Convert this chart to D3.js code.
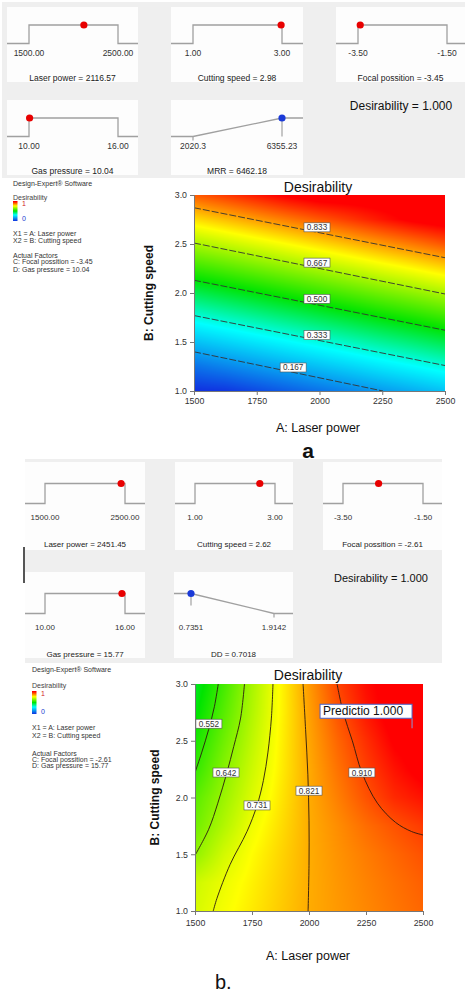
<!DOCTYPE html>
<html>
<head>
<meta charset="utf-8">
<script src="https://cdn.jsdelivr.net/npm/d3@7"></script>
<style>
  body { margin: 0; background: #fff; }
  svg { display: block; font-family: "Liberation Sans", Arial, sans-serif; }
</style>
</head>
<body>
<script>
// ---------------------------------------------------------------
// data
// ---------------------------------------------------------------
const gridA = [1500, 1625, 1750, 1875, 2000, 2125, 2250, 2375, 2500];   // A: Laser power
const gridB = [1.0, 1.25, 1.5, 1.75, 2.0, 2.25, 2.5, 2.75, 3.0];        // B: Cutting speed
const xTicks = [1500, 1750, 2000, 2250, 2500];
const yTicks = [1.0, 1.5, 2.0, 2.5, 3.0];

// desirability estimates, rows = gridB (low to high), cols = gridA
const desirA = [
  [0.000, 0.009, 0.038, 0.067, 0.096, 0.125, 0.155, 0.183, 0.213],
  [0.094, 0.123, 0.152, 0.181, 0.210, 0.239, 0.269, 0.297, 0.327],
  [0.208, 0.237, 0.266, 0.295, 0.324, 0.353, 0.383, 0.411, 0.441],
  [0.322, 0.351, 0.380, 0.409, 0.438, 0.467, 0.497, 0.525, 0.555],
  [0.436, 0.465, 0.494, 0.523, 0.552, 0.581, 0.611, 0.639, 0.669],
  [0.550, 0.579, 0.608, 0.637, 0.666, 0.695, 0.725, 0.753, 0.783],
  [0.664, 0.693, 0.722, 0.751, 0.780, 0.809, 0.839, 0.867, 0.897],
  [0.778, 0.807, 0.836, 0.865, 0.894, 0.923, 0.953, 0.981, 1.000],
  [0.892, 0.921, 0.950, 0.979, 1.000, 1.000, 1.000, 1.000, 1.000]
];
const desirB = [
  [0.710, 0.741, 0.768, 0.795, 0.822, 0.838, 0.853, 0.868, 0.882],
  [0.700, 0.731, 0.761, 0.791, 0.821, 0.840, 0.857, 0.873, 0.888],
  [0.641, 0.705, 0.751, 0.786, 0.821, 0.843, 0.863, 0.882, 0.900],
  [0.608, 0.673, 0.735, 0.778, 0.821, 0.848, 0.876, 0.899, 0.920],
  [0.587, 0.651, 0.715, 0.770, 0.822, 0.860, 0.899, 0.935, 0.955],
  [0.549, 0.630, 0.700, 0.763, 0.823, 0.871, 0.915, 0.955, 0.985],
  [0.521, 0.607, 0.686, 0.759, 0.827, 0.882, 0.930, 0.975, 0.995],
  [0.490, 0.584, 0.673, 0.755, 0.831, 0.897, 0.950, 0.990, 1.000],
  [0.470, 0.564, 0.664, 0.754, 0.837, 0.911, 0.960, 0.990, 1.000]
];

// contour lines [A, B] and label spots
const contourLevelsA = ["0.167", "0.333", "0.500", "0.667", "0.833"];
const contourLinesA = [
  [[1500, 1.40], [2253, 1.0]],
  [[1500, 1.77], [2500, 1.26]],
  [[1500, 2.13], [2500, 1.62]],
  [[1500, 2.51], [2500, 1.99]],
  [[1500, 2.87], [2500, 2.36]]
];
const contourLabelAtA = [[1895, 1.24], [1990, 1.57], [1990, 1.94], [1990, 2.31], [1990, 2.67]];

const contourLevelsB = ["0.552", "0.642", "0.731", "0.821", "0.910"];
const contourLinesB = [
  [[1602, 3.0], [1585, 2.8], [1560, 2.6], [1530, 2.4], [1500, 2.22]],
  [[1717, 3.0], [1700, 2.7], [1670, 2.45], [1640, 2.22], [1600, 1.95], [1560, 1.72], [1500, 1.49]],
  [[1842, 3.0], [1835, 2.7], [1820, 2.4], [1800, 2.15], [1772, 1.93], [1728, 1.70], [1654, 1.41], [1596, 1.11], [1580, 1.0]],
  [[1974, 3.0], [1985, 2.6], [1995, 2.2], [2000, 1.8], [2000, 1.4], [1996, 1.0]],
  [[2123, 3.0], [2150, 2.75], [2190, 2.5], [2232, 2.22], [2300, 1.95], [2380, 1.78], [2450, 1.70], [2500, 1.67]]
];
const contourLabelAtB = [[1561, 2.65], [1636, 2.22], [1772, 1.93], [2000, 2.06], [2232, 2.22]];
const predictionB = [2452, 2.61];
const predictionText = "Predictio 1.000";

// ramps (factors + response) of each optimisation
const factorNameA = ["Laser power", "Cutting speed", "Focal possition", "Gas pressure", "MRR"];
const factorLowA = [1500, 1, -3.5, 10, 2020.3];
const factorHighA = [2500, 3, -1.5, 16, 6355.23];
const factorValueA = [2116.57, 2.98, -3.45, 10.04, 6462.18];
const factorValueTextA = ["2116.57", "2.98", "-3.45", "10.04", "6462.18"];
const factorLowTextA = ["1500.00", "1.00", "-3.50", "10.00", "2020.3"];
const factorHighTextA = ["2500.00", "3.00", "-1.50", "16.00", "6355.23"];
const factorGoalA = ["range", "range", "range", "range", "max"];

const factorNameB = ["Laser power", "Cutting speed", "Focal possition", "Gas pressure", "DD"];
const factorLowB = [1500, 1, -3.5, 10, 0.7351];
const factorHighB = [2500, 3, -1.5, 16, 1.9142];
const factorValueB = [2451.45, 2.62, -2.61, 15.77, 0.7018];
const factorValueTextB = ["2451.45", "2.62", "-2.61", "15.77", "0.7018"];
const factorLowTextB = ["1500.00", "1.00", "-3.50", "10.00", "0.7351"];
const factorHighTextB = ["2500.00", "3.00", "-1.50", "16.00", "1.9142"];
const factorGoalB = ["range", "range", "range", "range", "min"];

const desirabilityText = "Desirability = 1.000";
const legendVarsText = ["X1 = A: Laser power", "X2 = B: Cutting speed"];
const actualFactorsA = ["C: Focal possition = -3.45", "D: Gas pressure = 10.04"];
const actualFactorsB = ["C: Focal possition = -2.61", "D: Gas pressure = 15.77"];

// ---------------------------------------------------------------
var WIDTH = 474, HEIGHT = 1004;
var svg = d3.select('body').append('svg')
  .attr('width', WIDTH).attr('height', HEIGHT);
svg.append('rect').attr('width', WIDTH).attr('height', HEIGHT).attr('fill', '#fff');

var colour = d3.scaleLinear()
  .domain([0, 0.3, 0.5, 0.75, 0.97])
  .range(['#1030e0', '#00ffff', '#00e400', '#ffff00', '#ff0000'])
  .clamp(true);

var defs = svg.append('defs');
var grad = defs.append('linearGradient').attr('id', 'dbar')
  .attr('x1', 0).attr('y1', 1).attr('x2', 0).attr('y2', 0);
colour.domain().forEach(function (d) {
  grad.append('stop').attr('offset', d).attr('stop-color', colour(d));
});

//////////////////////////////////////////////////////////////////
// ramps panel
//////////////////////////////////////////////////////////////////
function drawRamps(p) {
  var g = svg.append('g');
  g.append('rect').attr('x', p.bg[0]).attr('y', p.bg[1])
    .attr('width', p.bg[2]).attr('height', p.bg[3]).attr('fill', '#efefef');

  p.names.forEach(function (name, i) {
    var b = p.boxes[i];
    var bx = b[0], by = b[1], bw = b[2], bh = b[3];
    var lo = bx + (p.goals[i] === 'min' ? p.respLo : p.lo);
    var sx = d3.scaleLinear().domain([p.lows[i], p.highs[i]])
      .range([lo, bx + p.hi]).clamp(true);
    var yHi = by + p.high, yBase = by + p.base;
    var x0 = sx(p.lows[i]), x1 = sx(p.highs[i]);

    g.append('rect').attr('x', bx).attr('y', by).attr('width', bw).attr('height', bh)
      .attr('fill', '#fdfdfd');

    var pts;
    if (p.goals[i] === 'range') {
      pts = [[bx, yBase], [x0, yBase], [x0, yHi], [x1, yHi], [x1, yBase], [bx + bw, yBase]];
    } else if (p.goals[i] === 'max') {
      pts = [[bx, yBase], [x0, yBase], [x1, yHi], [bx + bw, yHi]];
      g.append('line').attr('x1', x1).attr('x2', x1).attr('y1', yHi).attr('y2', yBase)
        .attr('stroke', '#999').attr('stroke-width', 1.1);
      g.append('line').attr('x1', x0).attr('x2', x0).attr('y1', yBase).attr('y2', yBase + 4)
        .attr('stroke', '#999').attr('stroke-width', 1.1);
    } else {
      pts = [[bx, yHi], [x0, yHi], [x1, yBase], [bx + bw, yBase]];
      g.append('line').attr('x1', x0).attr('x2', x0).attr('y1', yHi).attr('y2', yBase - 8)
        .attr('stroke', '#999').attr('stroke-width', 1.1);
      g.append('line').attr('x1', x1).attr('x2', x1).attr('y1', yBase).attr('y2', yBase + 4)
        .attr('stroke', '#999').attr('stroke-width', 1.1);
    }
    g.append('path').attr('d', d3.line()(pts))
      .attr('fill', 'none').attr('stroke', '#a0a0a0').attr('stroke-width', 1.3);

    g.append('circle').attr('cx', sx(p.values[i])).attr('cy', yHi).attr('r', 3.6)
      .attr('fill', p.goals[i] === 'range' ? '#e80000' : '#1a3ad8');

    g.append('text').attr('x', x0).attr('y', by + p.tick).attr('text-anchor', 'middle')
      .attr('font-size', p.font).attr('fill', '#333').text(p.lowText[i]);
    g.append('text').attr('x', x1).attr('y', by + p.tick).attr('text-anchor', 'middle')
      .attr('font-size', p.font).attr('fill', '#333').text(p.highText[i]);
    g.append('text').attr('x', bx + bw / 2).attr('y', by + p.name).attr('text-anchor', 'middle')
      .attr('font-size', p.font).attr('fill', '#222')
      .text(name + ' = ' + p.valueText[i]);
  });

  g.append('text').attr('x', p.desir[0]).attr('y', p.desir[1]).attr('text-anchor', 'middle')
    .attr('font-size', p.desir[2]).attr('fill', '#111').text(desirabilityText);
}

drawRamps({
  bg: [2, 2, 463, 176],
  boxes: [[7, 7, 131, 75], [171, 7, 132, 75], [336, 7, 129, 75], [7, 100, 131, 75], [171, 100, 132, 75]],
  lo: 22, hi: 111, respLo: 22, high: 18, base: 36.5, tick: 49, name: 74, font: 8.5,
  names: factorNameA, lows: factorLowA, highs: factorHighA, values: factorValueA,
  valueText: factorValueTextA, lowText: factorLowTextA, highText: factorHighTextA, goals: factorGoalA,
  desir: [401, 110, 12]
});

drawRamps({
  bg: [25, 459, 417, 204],
  boxes: [[25, 462, 120, 88], [175, 462, 118, 88], [323, 462, 119, 88], [25, 572, 120, 86], [174, 572, 119, 86]],
  lo: 20, hi: 100, respLo: 17, high: 21.5, base: 41.5, tick: 58, name: 85, font: 8,
  names: factorNameB, lows: factorLowB, highs: factorHighB, values: factorValueB,
  valueText: factorValueTextB, lowText: factorLowTextB, highText: factorHighTextB, goals: factorGoalB,
  desir: [381, 582, 11]
});
// dark edge mark left of the second panel
svg.append('rect').attr('x', 23).attr('y', 547).attr('width', 2).attr('height', 36).attr('fill', '#555');

//////////////////////////////////////////////////////////////////
// Design-Expert legend
//////////////////////////////////////////////////////////////////
function drawLegend(x, ys, bar, factors) {
  var g = svg.append('g').attr('font-size', 7).attr('fill', '#333');
  g.append('text').attr('x', x).attr('y', ys[0]).text('Design-Expert\u00ae Software');
  g.append('text').attr('x', x).attr('y', ys[1]).attr('fill', '#444').text('Desirability');
  g.append('rect').attr('x', x).attr('y', bar[0]).attr('width', 4.5).attr('height', bar[1] - bar[0])
    .attr('fill', 'url(#dbar)');
  g.append('text').attr('x', x + 9).attr('y', bar[0] + 5).attr('fill', '#d02020').text('1');
  g.append('text').attr('x', x + 9).attr('y', bar[1]).attr('fill', '#2040d0').text('0');
  g.append('text').attr('x', x).attr('y', ys[2]).text(legendVarsText[0]);
  g.append('text').attr('x', x).attr('y', ys[3]).text(legendVarsText[1]);
  g.append('text').attr('x', x).attr('y', ys[4]).text('Actual Factors');
  g.append('text').attr('x', x).attr('y', ys[5]).text(factors[0]);
  g.append('text').attr('x', x).attr('y', ys[6]).text(factors[1]);
}
drawLegend(13, [185.5, 199.5, 235.5, 242.5, 257.5, 264, 271.5], [201, 221], actualFactorsA);
drawLegend(32, [671.5, 687.5, 730, 738, 755.5, 761.5, 767.5], [691, 714], actualFactorsB);

//////////////////////////////////////////////////////////////////
// contour plots
//////////////////////////////////////////////////////////////////
function heatImage(x, y, grid) {
  var x0 = x.range()[0], x1 = x.range()[1], y0 = y.range()[1], y1 = y.range()[0];
  var w = Math.round(x1 - x0), h = Math.round(y1 - y0);
  var cv = document.createElement('canvas');
  cv.width = w; cv.height = h;
  var ctx = cv.getContext('2d');
  var img = ctx.createImageData(w, h);
  var ia = d3.scaleLinear().domain(d3.extent(gridA)).range([0, gridA.length - 1]).clamp(true);
  var ib = d3.scaleLinear().domain(d3.extent(gridB)).range([0, gridB.length - 1]).clamp(true);
  for (var j = 0; j < h; j++) {
    for (var i = 0; i < w; i++) {
      var fi = ia(x.invert(x0 + i + 0.5)), fj = ib(y.invert(y0 + j + 0.5));
      var i0 = Math.min(Math.floor(fi), gridA.length - 2), j0 = Math.min(Math.floor(fj), gridB.length - 2);
      var tx = fi - i0, ty = fj - j0;
      var v = (grid[j0][i0] * (1 - tx) + grid[j0][i0 + 1] * tx) * (1 - ty) +
              (grid[j0 + 1][i0] * (1 - tx) + grid[j0 + 1][i0 + 1] * tx) * ty;
      var c = d3.rgb(colour(v));
      var k = (j * w + i) * 4;
      img.data[k] = c.r; img.data[k + 1] = c.g; img.data[k + 2] = c.b; img.data[k + 3] = 255;
    }
  }
  ctx.putImageData(img, 0, 0);
  return cv.toDataURL();
}

function drawContour(p) {
  var x = d3.scaleLinear().domain([1500, 2500]).range([p.left, p.right]);
  var y = d3.scaleLinear().domain([1.0, 3.0]).range([p.bottom, p.top]);
  var g = svg.append('g');
  var clipId = 'clip' + p.id;
  defs.append('clipPath').attr('id', clipId).append('rect')
    .attr('x', p.left).attr('y', p.top)
    .attr('width', p.right - p.left).attr('height', p.bottom - p.top);

  g.append('image').attr('x', p.left).attr('y', p.top)
    .attr('width', p.right - p.left).attr('height', p.bottom - p.top)
    .attr('preserveAspectRatio', 'none')
    .attr('href', heatImage(x, y, p.grid));

  var line = d3.line().x(function (d) { return x(d[0]); }).y(function (d) { return y(d[1]); })
    .curve(d3.curveCatmullRom);
  g.append('g').attr('clip-path', 'url(#' + clipId + ')')
    .selectAll('path').data(p.lines).enter().append('path')
    .attr('d', line).attr('fill', 'none')
    .attr('stroke', p.dash ? '#333' : '#2a1a10').attr('stroke-width', 0.9)
    .attr('stroke-dasharray', p.dash ? '7,2' : null);

  var lab = g.append('g').selectAll('g').data(p.labelAt).enter().append('g')
    .attr('transform', function (d) { return 'translate(' + x(d[0]) + ',' + y(d[1]) + ')'; });
  lab.append('rect').attr('x', -13).attr('y', -4.5).attr('width', 26).attr('height', 9)
    .attr('fill', '#fff').attr('stroke', '#555').attr('stroke-width', 0.6);
  lab.append('text').attr('text-anchor', 'middle').attr('y', 3).attr('font-size', 8.2)
    .attr('fill', '#333').text(function (d, i) { return p.levels[i]; });

  var ax = g.append('g').attr('transform', 'translate(0,' + p.bottom + ')')
    .call(d3.axisBottom(x).tickValues(xTicks).tickSize(4).tickPadding(p.xPad).tickFormat(d3.format('d')));
  var ay = g.append('g').attr('transform', 'translate(' + p.left + ',0)')
    .call(d3.axisLeft(y).tickValues(yTicks).tickSize(4).tickPadding(3).tickFormat(d3.format('.1f')));
  [ax, ay].forEach(function (a) {
    a.selectAll('path,line').attr('stroke', '#777');
    a.selectAll('text').attr('fill', '#333').attr('font-size', p.tickFont)
      .attr('font-family', '"Liberation Sans", Arial, sans-serif');
  });

  g.append('text').attr('x', p.titleX).attr('y', p.titleY).attr('text-anchor', 'middle')
    .attr('font-size', 14).attr('fill', '#111').text('Desirability');
  g.append('text').attr('x', p.titleX).attr('y', p.xLabY).attr('text-anchor', 'middle')
    .attr('font-size', 12.5).attr('fill', '#111').text('A: Laser power');
  g.append('text').attr('transform', 'translate(' + p.yLabX + ',' + ((p.top + p.bottom) / 2) + ') rotate(-90)')
    .attr('text-anchor', 'middle').attr('dy', '0.35em')
    .attr('font-size', 12).attr('font-weight', 'bold').attr('fill', '#111').text('B: Cutting speed');
  return { x: x, y: y, g: g };
}

drawContour({
  id: 'A', left: 194, right: 445, top: 195, bottom: 391, grid: desirA,
  lines: contourLinesA, levels: contourLevelsA, labelAt: contourLabelAtA, dash: true,
  xPad: 3, tickFont: 8.8, titleX: 318, titleY: 192, xLabY: 432, yLabX: 149
});

var plotB = drawContour({
  id: 'B', left: 195, right: 423, top: 684, bottom: 911, grid: desirB,
  lines: contourLinesB, levels: contourLevelsB, labelAt: contourLabelAtB, dash: false,
  xPad: 5, tickFont: 8.8, titleX: 308, titleY: 680, xLabY: 960, yLabX: 155
});

// prediction flag
var px = plotB.x(predictionB[0]), py = plotB.y(predictionB[1]);
plotB.g.append('line').attr('x1', px).attr('x2', px).attr('y1', py - 10).attr('y2', py)
  .attr('stroke', '#8a9ad8').attr('stroke-width', 1);
plotB.g.append('rect').attr('x', px - 92).attr('y', py - 24).attr('width', 92).attr('height', 14)
  .attr('fill', '#fff').attr('stroke', '#4a64c8').attr('stroke-width', 1);
plotB.g.append('text').attr('x', px - 89).attr('y', py - 13).attr('font-size', 12)
  .attr('fill', '#111').text(predictionText);

// panel letters
svg.append('text').attr('x', 308).attr('y', 458).attr('text-anchor', 'middle')
  .attr('font-size', 21).attr('font-weight', 'bold').attr('fill', '#111').text('a');
svg.append('text').attr('x', 215).attr('y', 989)
  .attr('font-size', 20).attr('fill', '#111').text('b.');
</script>
</body>
</html>
